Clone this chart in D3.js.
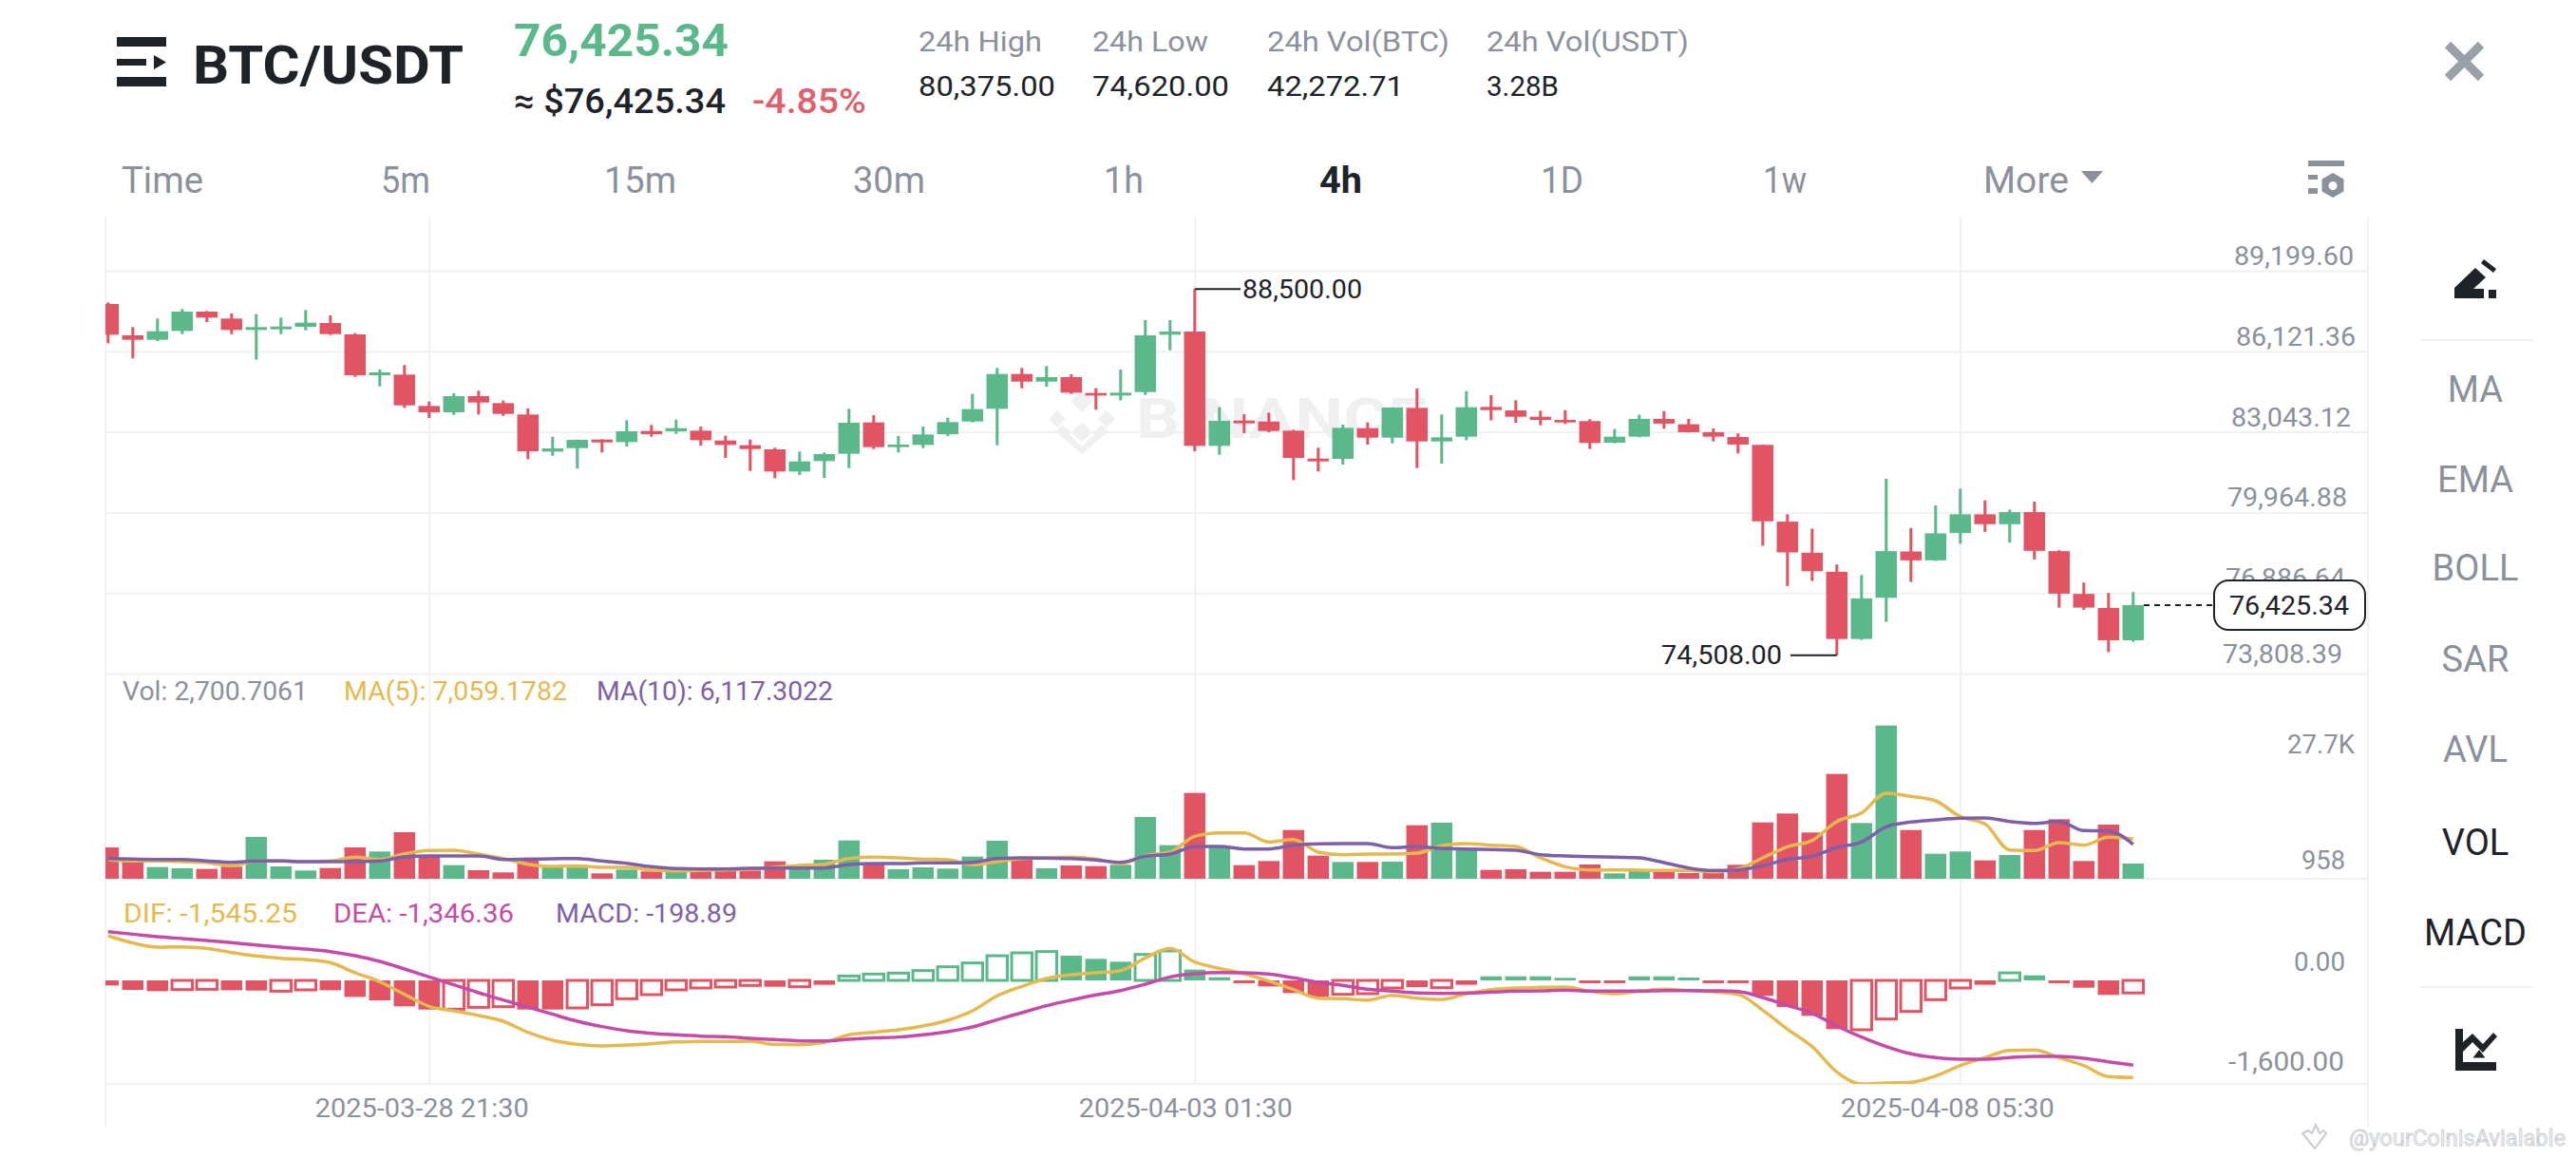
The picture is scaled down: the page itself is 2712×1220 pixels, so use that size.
<!DOCTYPE html>
<html><head><meta charset="utf-8">
<script src="https://cdn.jsdelivr.net/npm/d3@7"></script>
<style>html,body{margin:0;padding:0;background:#fff}svg{display:block}text{font-family:Roboto,"Noto Sans",sans-serif}</style>
</head><body><svg id="c" width="2712" height="1220"></svg>
<script>
// ---------- data ----------
const highs=[87990,87046,87372,87735,87663,87566,87542,87409,87699,87493,86816,85424,85594,84202,84517,84614,84238,83936,82859,82750,82762,83488,83307,83512,83246,82895,82750,82436,82290,82254,83924,83682,82883,83246,83585,84493,85485,85485,85557,85243,84710,85424,87312,87312,88500,83984,83718,83779,83125,82436,83319,83404,83984,84698,83706,84601,84444,84251,83851,83875,83528,83152,83697,83831,83540,83176,82982,82558,79892,79346,77977,77577,81249,79371,80231,80874,80425,80074,80377,78522,77286,76886,76922];
const lows=[86429,85848,86513,86779,87239,86779,85799,86779,86925,86743,85146,84783,83960,83573,83694,83706,83658,82000,82133,81637,82254,82484,82859,82968,82520,82048,81552,81274,81395,81286,81661,82387,82254,82423,82883,83404,82532,84710,84771,84493,83888,84251,84456,86162,82302,82169,82992,83028,81201,81528,81794,82557,82605,81661,81831,82726,83488,83391,83295,83343,82389,82610,82837,83164,83020,82679,82219,78692,77153,77347,74508,75092,75783,77310,78110,78765,79225,78813,78171,76329,76244,74632,75020];
const opens=[87929,86731,86562,86900,87639,87372,86937,86961,87058,87203,86767,85206,85231,84033,83791,84408,84142,83706,82290,82423,82750,82653,83077,83065,83089,82714,82532,82375,81528,81927,82206,83404,82460,82544,82956,83440,83924,85255,84964,85134,84529,84432,84565,86755,86876,82508,83476,83440,83089,82024,82012,83186,82823,83960,82678,82859,83996,83863,83621,83500,83455,82631,82861,83540,83334,83031,82849,82546,79613,78425,77698,75129,76704,78474,78134,79177,79892,79516,79977,78486,76850,76316,75080];
const closes=[86755,86562,86888,87639,87409,86937,87046,87070,87215,86779,85206,85315,84057,83791,84408,84166,83730,82302,82411,82738,82641,83065,82956,83186,82726,82544,82387,81528,81915,82194,83391,82460,82557,82944,83416,83912,85255,84964,85134,84541,84432,84541,86731,86876,82508,83464,83367,83077,82048,81915,83198,82823,83972,82678,82835,83984,83875,83621,83500,83404,82619,82861,83540,83358,83031,82861,82558,79625,78437,77722,75129,76680,78486,78134,79165,79892,79516,79977,78498,76862,76329,75080,76425.34];

const volumes=[5574,3040,2083,1858,1745,2139,7432,2196,1464,1914,5574,4842,8276,4110,2421,1520,1126,3322,2027,2477,957,1633,1295,1351,2027,1351,1464,3097,2477,3378,6812,2590,1689,2027,1802,3941,6756,3603,1858,2365,2252,2477,10979,5968,15257,5686,2421,3153,8670,4110,2984,2984,3040,9515,9965,5405,1576,1689,1239,1239,2534,957,1351,1464,1013,1182,2477,10021,11598,8220,18635,9909,27249,8670,4448,4842,3265,4222,8670,10584,3153,9627,2700.7061];
const volMA5=[3378,3153,3153,3040,2871,2308,3153,3153,3040,3153,3828,3434,4448,5011,5067,4391,3603,2590,2196,2252,2027,2027,1576,1408,1464,1576,1745,2027,2365,2590,3603,3828,3716,3491,3378,2477,3040,3603,3716,3828,3491,2702,4110,4729,7544,8164,8164,6531,6981,4729,4279,4391,4391,4560,5855,6249,5968,5743,3716,2139,1576,1576,1520,1464,1464,1239,1745,3716,5686,6812,10190,11710,15201,14638,13850,11035,9740,5123,5011,6418,5968,7375,7059.1782];
const volMA10=[3603,3491,3434,3434,3153,2928,3153,3153,3040,3040,3040,3153,3885,4054,4054,4054,3434,3491,3547,3603,3153,2759,2139,1802,1745,1745,1858,1914,1914,1914,2534,2702,2702,2815,2815,2928,3603,3716,3660,3603,3322,2928,3997,4391,5686,5743,5292,5292,5968,6193,6249,6249,5517,5686,5405,5292,5180,5067,4279,4054,3941,3828,3716,2871,1914,1464,1576,2308,3434,3997,5574,6531,9233,10078,10472,10753,10810,10190,9853,10190,8558,8501,6117.3022];

const macdHist=[-80,-151,-171,-146,-141,-156,-161,-171,-151,-156,-262,-317,-412,-463,-458,-428,-418,-463,-463,-438,-387,-292,-226,-151,-121,-106,-80,-101,-101,-70,70,101,116,156,216,277,392,438,458,392,342,297,412,468,171,50,-45,-96,-201,-262,-221,-211,-121,-106,-116,-70,65,65,65,40,-45,-45,65,65,45,-45,-45,-246,-423,-563,-775,-785,-614,-493,-307,-121,-70,120,80,-45,-116,-231,-198.89];
const macdHollowAt=[3,4,7,8,14,15,16,19,20,21,22,23,24,25,26,28,30,31,32,33,34,35,36,37,38,42,43,50,51,52,54,71,72,73,74,75,77,82];
const dif=[709,594,528,533,508,443,387,352,332,282,121,-20,-221,-412,-483,-558,-649,-825,-951,-1016,-1041,-1026,-1006,-976,-971,-971,-966,-1016,-1021,-986,-865,-825,-785,-724,-634,-483,-246,-96,30,91,121,156,357,508,292,191,106,-10,-146,-282,-292,-312,-236,-282,-302,-211,-146,-121,-111,-106,-171,-211,-171,-141,-161,-181,-221,-473,-775,-1051,-1454,-1645,-1630,-1620,-1519,-1353,-1227,-1112,-1107,-1227,-1353,-1529,-1545.25];
const dea=[775,734,694,664,634,599,563,528,498,458,392,302,181,55,-70,-196,-312,-423,-538,-649,-734,-800,-840,-865,-885,-895,-920,-941,-961,-961,-936,-915,-900,-865,-815,-739,-624,-513,-402,-312,-231,-161,-60,55,106,126,121,101,40,-30,-80,-141,-171,-201,-206,-201,-186,-171,-166,-156,-171,-171,-171,-161,-161,-166,-176,-272,-397,-523,-724,-900,-1051,-1167,-1227,-1252,-1252,-1227,-1207,-1207,-1237,-1293,-1346.36];

const priceTicks=[89199.60,86121.36,83043.12,79964.88,76886.64,73808.39];
const timeTicks=[13,44,75];
const timeLabels=["2025-03-28 21:30","2025-04-03 01:30","2025-04-08 05:30"];
const tabLabels=["Time","5m","15m","30m","1h","4h","1D","1w","More"];
const sideLabels=["MA","EMA","BOLL","SAR","AVL","VOL","MACD"];
const statLabels=["24h High","24h Low","24h Vol(BTC)","24h Vol(USDT)"];
const statValues=["80,375.00","74,620.00","42,272.71","3.28B"];
const lastPrice=76425.34, hiPrice=88500, loPrice=74508;

// ---------- layout & style ----------
const GREEN="#5ab88b",RED="#e25363",YEL="#e6b94f",PUR="#7e5fa9",MAG="#c64ba9",GREY="#8b919c",DARK="#1e2329",GRID="#eef0f2";
const L=111,R=2493,TOP=228,BOT=1141,FOOT=1186;
const svg=d3.select("#c");
svg.append("rect").attr("width",2712).attr("height",1220).attr("fill","#fff");
const x=d3.scaleLinear().domain([0,82]).range([113.8,113.8+82*26]);
const yP=d3.scaleLinear().domain([priceTicks[0],priceTicks[5]]).range([285,709]);
const yV=d3.scaleLinear().domain([0,27700]).range([925,761]);
const yM=d3.scaleLinear().domain([0,-1600]).range([1032,1138]);
const bw=22.5;
function T(px,py,s,o={}){
  const t=svg.append("text").attr("x",px).attr("y",py).text(s)
   .attr("font-size",o.size||28).attr("font-weight",o.w||400).attr("fill",o.c||GREY)
   .attr("text-anchor",o.a||"start").attr("dominant-baseline","central");
  if(o.len)t.attr("textLength",o.len).attr("lengthAdjust","spacingAndGlyphs");
  return t;
}
// frame
svg.append("line").attr("x1",L).attr("x2",L).attr("y1",TOP).attr("y2",FOOT).attr("stroke",GRID).attr("stroke-width",2);
svg.append("line").attr("x1",R).attr("x2",R).attr("y1",TOP).attr("y2",FOOT).attr("stroke",GRID).attr("stroke-width",2);
// watermark
const wm=svg.append("g").attr("fill","#eff0f1");
wm.append("path").attr("d","M1139,410l12,12-12,12-12-12zM1113,432l9,9-9,9-9-9zM1165,432l9,9-9,9-9-9zM1139,444l13,13-13,13-13-13zM1111,454l28,24 28-24 -7-7 -21,18 -21-18z");
T(1196,440,"BINANCE",{size:60,w:700,c:"#eff0f1",len:306});

// horizontal grid through d3 axes
const priceRight=[2478,2480,2475,2471,2469,2466];
const gP=svg.append("g").attr("transform",`translate(${L},0)`)
 .call(d3.axisRight(yP).tickValues(priceTicks).tickSize(R-L).tickFormat(d3.format(",.2f")));
gP.select(".domain").remove();
gP.selectAll("line").attr("stroke",GRID).attr("stroke-width",2);
gP.selectAll("text").attr("x",(d,i)=>priceRight[i]-L).attr("text-anchor","end").attr("dy",0)
 .attr("y",(d,i)=>i==5?-21:-16).attr("dominant-baseline","central")
 .attr("font-size",28).attr("fill",GREY).attr("font-family","Roboto").attr("textLength",126).attr("lengthAdjust","spacingAndGlyphs");
// extra pane separators
[925,BOT].forEach(v=>svg.append("line").attr("x1",L).attr("x2",R).attr("y1",v).attr("y2",v).attr("stroke",GRID).attr("stroke-width",2));

// time axis with verticals
const gX=svg.append("g").attr("transform",`translate(0,${BOT})`)
 .call(d3.axisBottom(x).tickValues(timeTicks).tickSize(-(BOT-TOP)).tickFormat((d,i)=>timeLabels[i]));
gX.select(".domain").remove();
gX.selectAll("line").attr("stroke",GRID).attr("stroke-width",2);
const tickShift=[-8,-10,-14];
gX.selectAll("text").attr("x",(d,i)=>tickShift[i]).attr("y",26).attr("dy",0).attr("dominant-baseline","central")
 .attr("font-size",27).attr("fill",GREY).attr("font-family","Roboto").attr("textLength",225).attr("lengthAdjust","spacingAndGlyphs");

// candles
const idx=d3.range(highs.length);
const up=i=>closes[i]>=opens[i];
svg.append("clipPath").attr("id","plot").append("rect").attr("x",L).attr("y",TOP).attr("width",R-L).attr("height",BOT-TOP);
const plot=svg.append("g").attr("clip-path","url(#plot)");
plot.selectAll(".w").data(idx).join("line").attr("x1",i=>x(i)).attr("x2",i=>x(i))
  .attr("y1",i=>yP(highs[i])).attr("y2",i=>yP(lows[i])).attr("stroke",i=>up(i)?GREEN:RED).attr("stroke-width",3);
plot.selectAll(".b").data(idx).join("rect").attr("x",i=>x(i)-bw/2).attr("width",bw)
  .attr("y",i=>yP(Math.max(opens[i],closes[i])))
  .attr("height",i=>Math.max(2,Math.abs(yP(opens[i])-yP(closes[i])))).attr("fill",i=>up(i)?GREEN:RED);
// volume bars
plot.selectAll(".v").data(idx).join("rect").attr("x",i=>x(i)-bw/2).attr("width",bw)
  .attr("y",i=>yV(volumes[i])).attr("height",i=>yV(0)-yV(volumes[i])).attr("fill",i=>up(i)?GREEN:RED);
const vline=d3.line().x((d,i)=>x(i)).curve(d3.curveMonotoneX);
plot.append("path").attr("d",vline.y(d=>yV(d))(volMA5)).attr("fill","none").attr("stroke",YEL).attr("stroke-width",3.5);
plot.append("path").attr("d",vline.y(d=>yV(d))(volMA10)).attr("fill","none").attr("stroke",PUR).attr("stroke-width",3.5);
// MACD bars
const hollow=new Set(macdHollowAt);
plot.selectAll(".m").data(idx).join("rect")
  .attr("x",i=>x(i)-bw/2+(hollow.has(i)?0.5:0)).attr("width",i=>bw-(hollow.has(i)?1:0))
  .attr("y",i=>Math.min(yM(0),yM(macdHist[i])))
  .attr("height",i=>Math.max(2,Math.abs(yM(macdHist[i])-yM(0))))
  .attr("fill",i=>hollow.has(i)?"#fff":(macdHist[i]>=0?GREEN:RED))
  .attr("stroke",i=>hollow.has(i)?(macdHist[i]>=0?GREEN:RED):"none").attr("stroke-width",3);
plot.append("path").attr("d",vline.y(d=>yM(d))(dif)).attr("fill","none").attr("stroke",YEL).attr("stroke-width",3.5);
plot.append("path").attr("d",vline.y(d=>yM(d))(dea)).attr("fill","none").attr("stroke",MAG).attr("stroke-width",3.5);

// hi/lo callouts
const xHi=x(highs.indexOf(hiPrice)),xLo=x(lows.indexOf(loPrice));
svg.append("line").attr("x1",xHi).attr("x2",1306).attr("y1",yP(hiPrice)).attr("y2",yP(hiPrice)).attr("stroke",DARK).attr("stroke-width",2);
T(1308,yP(hiPrice),d3.format(",.2f")(hiPrice),{size:28,c:DARK,len:126});
svg.append("line").attr("x1",1885).attr("x2",xLo).attr("y1",yP(loPrice)).attr("y2",yP(loPrice)).attr("stroke",DARK).attr("stroke-width",2);
T(1749,yP(loPrice),d3.format(",.2f")(loPrice),{size:28,c:DARK,len:127});
// last price
svg.append("line").attr("x1",x(82)+bw/2).attr("x2",2331).attr("y1",yP(lastPrice)).attr("y2",yP(lastPrice)).attr("stroke",DARK).attr("stroke-width",2).attr("stroke-dasharray","6 5");
svg.append("rect").attr("x",2331).attr("y",611).attr("width",159).attr("height",52).attr("rx",15).attr("fill","#fff").attr("stroke",DARK).attr("stroke-width",2);
T(2410,637,d3.format(",.2f")(lastPrice),{size:28,c:DARK,a:"middle",len:126});

// pane legends
T(129,727,"Vol: 2,700.7061",{len:195});
T(362,727,"MA(5): 7,059.1782",{c:YEL,len:235});
T(628,727,"MA(10): 6,117.3022",{c:PUR,len:249});
T(130,961,"DIF: -1,545.25",{c:YEL,len:183});
T(351,961,"DEA: -1,346.36",{c:MAG,len:190});
T(585,961,"MACD: -198.89",{c:PUR,len:191});
// secondary axis labels
T(2479,783,"27.7K",{a:"end",len:71});
T(2469,905,"958",{a:"end",len:46});
T(2469,1012,"0.00",{a:"end",len:54});
T(2468,1117,"-1,600.00",{a:"end",len:122});

// header
const ic=svg.append("g").attr("fill",DARK);
ic.append("path").attr("d","M123,39h52v10h-52zM123,81h52v10h-52zM123,62h31v7h-31zM162,58l13,7.5-13,7.5z");
T(203,69,"BTC/USDT",{size:56,w:700,c:DARK,len:285});
T(541,42,"76,425.34",{size:48,w:700,c:GREEN,len:226});
T(541,106,"≈ $76,425.34",{size:37,w:500,c:DARK,len:223});
T(792,106,"-4.85%",{size:37,w:500,c:"#df5f6b",len:120});
const statX=[967,1150,1334,1565],statW=[130,122,192,213],statW2=[144,144,144,76];
statLabels.forEach((s,i)=>{T(statX[i],43,s,{size:30,len:statW[i]});T(statX[i],90,statValues[i],{size:30,c:DARK,len:statW2[i]});});
// tabs
const tabX=[128,401,636,898,1162,1389,1622,1856,2088],tabW=[86,52,76,76,42,45,45,46,90];
tabLabels.forEach((s,i)=>T(tabX[i],190,s,{size:38,w:i==5?700:400,c:i==5?DARK:GREY,len:tabW[i]}));
svg.append("path").attr("d","M2191,180h23l-11.5,13z").attr("fill",GREY);
svg.append("path").attr("fill-rule","evenodd").attr("fill",GREY).attr("d","M2430,169h38v6h-38zM2430,184h10v5h-10zM2430,198h10v6h-10zM2456,182l11.5,6.5v13l-11.5,6.5-11.5-6.5v-13zM2456,191a4.5,4.5 0 1,0 .01,0z");
svg.append("path").attr("stroke","#9aa0aa").attr("stroke-width",9).attr("fill","none").attr("d","M2577,47L2612,82M2612,47L2577,82");
// side panel
svg.append("path").attr("fill",DARK).attr("d","M2584,314V303L2606,282L2617,292L2604,304H2615V314ZM2615,273l13,10-3,4-13-10zM2620,305h8v9h-8z");
const sideY=[410,505,598,694,789,887,982];
sideLabels.forEach((s,i)=>T(2606,sideY[i],s,{size:38,c:i>=5?DARK:GREY,a:"middle"}));
[358,1039].forEach(v=>svg.append("line").attr("x1",2548).attr("x2",2666).attr("y1",v).attr("y2",v).attr("stroke",GRID).attr("stroke-width",2));
svg.append("path").attr("fill",DARK).attr("d","M2585,1083h8v35h35v9h-43zM2593,1097l10,-9 11,11 11,-12 4,4 -15,17 -11,-11 -10,10zM2610,1105l6.5,8.5h-13z");
// corner credit
T(2473,1198,"@yourCoinisAvialable",{size:23,c:"#f1f2f3",len:228}).attr("stroke","#c9ccd1").attr("stroke-width",0.8);
svg.append("path").attr("fill","none").attr("stroke","#c9ccd1").attr("stroke-width",2).attr("d","M2424,1193l6,-3 4,3 4,-9 4,9 4,-3 3,3 -12,16z");
</script></body></html>
